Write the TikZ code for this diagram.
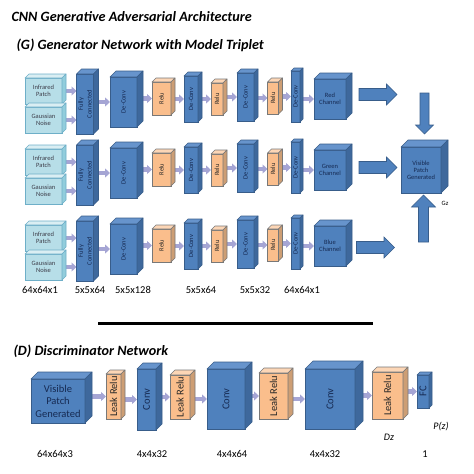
\documentclass[tikz,border=0pt]{standalone}
\usepackage{fontspec}
\setmainfont{Carlito}
\usetikzlibrary{arrows.meta}

\definecolor{bluefront}{RGB}{79,129,189}
\definecolor{bluetop}{RGB}{103,148,204}
\definecolor{blueside}{RGB}{62,104,156}
\definecolor{blueedge}{RGB}{56,93,138}
\definecolor{bluetxt}{RGB}{22,42,82}
\definecolor{relufront}{RGB}{250,190,140}
\definecolor{relutop}{RGB}{252,214,182}
\definecolor{reluside}{RGB}{205,158,116}
\definecolor{reluedge}{RGB}{120,120,120}
\definecolor{relutxt}{RGB}{40,40,40}
\definecolor{cyanfront}{RGB}{183,222,232}
\definecolor{cyantop}{RGB}{218,238,243}
\definecolor{cyanside}{RGB}{146,205,220}
\definecolor{cyanedge}{RGB}{110,175,200}
\definecolor{cyantxt}{RGB}{60,60,72}
\definecolor{flowfill}{RGB}{165,165,212}

\pgfdeclarelayer{back}
\pgfsetlayers{back,main}

\tikzset{
	block/.style    = {rectangle, inner sep=0pt, outer sep=0pt, align=center,
		line width=0.6pt},
	face/.style     = {line width=0.6pt, line join=round},
	flow/.style     = {line width=4.5pt, draw=flowfill,
		-{Triangle[width=9pt,length=5pt]}},
	bigarrow/.style = {draw=blueedge, fill=bluefront, line width=0.6pt, line join=miter}
}
% 3d block: name, x, y, width, height, depth, colour, text
\newcommand{\cuboid}[8]{
	\node[block, fill=#7front, draw=#7edge, text=#7txt,
		minimum width=#4pt, minimum height=#5pt] (#1) at (#2,#3) {#8};
	\filldraw[face, fill=#7top, draw=#7edge] (#1.north west) -- ++(#6,-#6)
		-- ++(#4,0) -- (#1.north east) -- cycle;
	\filldraw[face, fill=#7side, draw=#7edge] (#1.north east) -- ++(#6,-#6)
		-- ++(0,#5) -- (#1.south east) -- cycle;
}
% block arrow: x, y, angle, length, shaft width, head width
\newcommand{\blockarrow}[6]{
	\filldraw[bigarrow, shift={(#1,#2)}, rotate=#3]
		(-#4/2,-#5/2) -- (#4/2-#6/2,-#5/2) -- (#4/2-#6/2,-#6/2) -- (#4/2,0)
		-- (#4/2-#6/2,#6/2) -- (#4/2-#6/2,#5/2) -- (-#4/2,#5/2) -- cycle;
}
\newcommand{\vlab}[1]{\rotatebox{90}{\shortstack{#1}}}

\begin{document}
\begin{tikzpicture}[x=1pt, y=-1pt]
	\useasboundingbox (0,0) rectangle (474,474);

	% titles
	\node[anchor=west, font=\bfseries\itshape\fontsize{14.2}{16}\selectfont] (title) at (8,17)
		{CNN Generative Adversarial Architecture};
	\node[anchor=west, font=\bfseries\itshape\fontsize{14.2}{16}\selectfont] (gtitle) at (13,45)
		{(G) Generator Network with Model Triplet};

	% Drawing the three generator rows
	\begin{scope}[every node/.append style={font=\fontsize{6.5}{7}\selectfont}]
	\foreach \r/\dy/\ch/\ax/\ay in {r/0/Red/378/94.5, g/71/Green/378/167.5, b/147/Blue/375.5/247.5}{
		\cuboid{ir\r}{43.5}{91+\dy}{37}{26}{4}{cyan}{Infrared\\Patch}
		\cuboid{gn\r}{43.5}{120+\dy}{37}{26}{4}{cyan}{Gaussian\\Noise}
		\cuboid{fc\r}{85}{104+\dy}{17}{60}{5}{blue}{\vlab{Fully\\Connected}}
		\cuboid{dc1\r}{123.5}{102+\dy}{27}{50}{6}{blue}{\vlab{De-Conv}}
		\cuboid{re1\r}{161.5}{98.5+\dy}{19}{33}{4}{relu}{\vlab{Relu}}
		\cuboid{dc2\r}{191}{99+\dy}{14}{46}{4}{blue}{\vlab{De-Conv}}
		\cuboid{re2\r}{217}{99+\dy}{12}{32}{4}{relu}{\vlab{Relu}}
		\cuboid{dc3\r}{245.5}{97+\dy}{17}{48}{4}{blue}{\vlab{De-Conv}}
		\cuboid{re3\r}{273}{98+\dy}{11}{32}{4}{relu}{\vlab{Relu}}
		\cuboid{dc4\r}{295.5}{96.5+\dy}{9}{51}{3}{blue}{\vlab{De-Conv}}
		\cuboid{ch\r}{330}{99+\dy}{32}{40}{6}{blue}{\ch\\Channel}
		\blockarrow{\ax}{\ay}{0}{38}{12}{21}

		\begin{pgfonlayer}{back}
			\draw[flow] (ir\r.east) -- (ir\r.east -| fc\r.west);
			\draw[flow] (gn\r.east) -- (gn\r.east -| fc\r.west);
			\foreach \a/\b in {fc/dc1, dc1/re1, re1/dc2, dc2/re2, re2/dc3, dc3/re3, re3/dc4, dc4/ch}
				\draw[flow] (\a\r.east |- \b\r.west) -- (\b\r.west);
		\end{pgfonlayer}
	}

	% merged output
	\cuboid{vis}{421}{170}{40}{46}{7}{blue}{Visible\\Patch\\Generated}
	\blockarrow{424.5}{113.5}{-90}{41}{9}{18}
	\blockarrow{423.5}{218.5}{90}{47}{10}{24}
	\node (gz) at (445,203) {Gz};
	\end{scope}

	% sizes of the generator layers
	\foreach \x/\t [count=\i] in {40/64x64x1, 90/5x5x64, 133/5x5x128, 201/5x5x64, 255/5x5x32, 302/64x64x1}
		\node[font=\fontsize{10.5}{12}\selectfont] (gs\i) at (\x,290) {\t};

	\draw[line width=3pt] (98,323) -- (373,323);

	% Drawing the discriminator
	\node[anchor=west, font=\bfseries\itshape\fontsize{14.2}{16}\selectfont] (dtitle) at (10,351)
		{(D) Discriminator Network};

	\begin{scope}[every node/.append style={font=\fontsize{10.5}{12.5}\selectfont}]
	\cuboid{vpg}{58}{401}{54}{44}{7}{blue}{Visible\\Patch\\Generated}
	\cuboid{lr1}{113.5}{396.5}{15}{45}{4}{relu}{\vlab{Leak Relu}}
	\cuboid{cv1}{146.5}{399.5}{19}{61}{6}{blue}{\vlab{Conv}}
	\cuboid{lr2}{180}{397}{20}{44}{5}{relu}{\vlab{Leak Relu}}
	\cuboid{cv2}{226}{399}{38}{60}{7}{blue}{\vlab{Conv}}
	\cuboid{lr3}{273.5}{396}{29}{46}{5}{relu}{\vlab{Leak Relu}}
	\cuboid{cv3}{330}{399}{50}{60}{8}{blue}{\vlab{Conv}}
	\cuboid{lr4}{387.5}{395.5}{31}{47}{5}{relu}{\vlab{Leak Relu}}
	\cuboid{fcd}{423}{391.5}{12}{33}{3}{blue}{\vlab{FC}}

	\begin{pgfonlayer}{back}
		\foreach \a/\b in {vpg/lr1, lr1/cv1, cv1/lr2, lr2/cv2, cv2/lr3, lr3/cv3, cv3/lr4, lr4/fcd}
			\draw[flow] (\a.east |- \b.west) -- (\b.west);
	\end{pgfonlayer}

	\node[font=\itshape\fontsize{10}{12}\selectfont] (pz) at (441,427) {P(z)};
	\node[font=\itshape\fontsize{10}{12}\selectfont] (dz) at (389,437) {Dz};
	\foreach \x/\t [count=\i] in {55/64x64x3, 152/4x4x32, 232/4x4x64, 325/4x4x32, 425/1}
		\node (ds\i) at (\x,454) {\t};
	\end{scope}
\end{tikzpicture}
\end{document}
